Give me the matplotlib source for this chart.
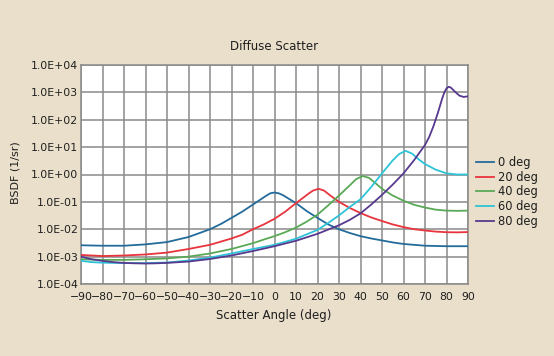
"""
Diffuse scatter BSDF curves for several incidence angles
"""

import matplotlib

matplotlib.use("Agg")
import matplotlib.pyplot as plt
from matplotlib.ticker import FixedLocator, FuncFormatter

# page and line colours
BG_COLOR: str = "#e9dfca"
GRID_COLOR: str = "#8a8a8a"

TITLE: str = "Diffuse Scatter"
X_LABEL: str = "Scatter Angle (deg)"
Y_LABEL: str = "BSDF (1/sr)"

X_TICKS: list[int] = list(range(-90, 91, 10))
Y_TICKS: list[float] = [1e-4, 1e-3, 1e-2, 1e-1, 1e0, 1e1, 1e2, 1e3, 1e4]

SERIES_NAMES: list[str] = ["0 deg", "20 deg", "40 deg", "60 deg", "80 deg"]
SERIES_COLORS: list[str] = ["#236b9b", "#e8343c", "#5aa957", "#2ec3d7", "#57398e"]

# values, one (angle, bsdf) pair per point
ANGLES_0: list[float] = [
    -90, -80, -70, -60, -50, -40, -35, -30, -25, -20, -15, -10, -7, -4, -2, 0,
    2, 4, 7, 10, 15, 20, 25, 30, 35, 40, 45, 50, 55, 60, 70, 80, 90,
]
BSDF_0: list[float] = [
    2.6e-3, 2.5e-3, 2.5e-3, 2.8e-3, 3.4e-3, 5.2e-3, 7.2e-3, 1.0e-2, 1.55e-2,
    2.6e-2, 4.4e-2, 8.0e-2, 1.15e-1, 1.65e-1, 2.05e-1, 2.2e-1, 2.05e-1, 1.75e-1,
    1.25e-1, 9.0e-2, 4.6e-2, 2.6e-2, 1.5e-2, 1.0e-2, 7.3e-3, 5.6e-3, 4.6e-3,
    3.9e-3, 3.3e-3, 2.9e-3, 2.5e-3, 2.4e-3, 2.4e-3,
]

ANGLES_20: list[float] = [
    -90, -80, -70, -60, -50, -40, -30, -20, -15, -10, -5, 0, 5, 10, 13, 16, 18,
    20.5, 23, 26, 30, 35, 40, 45, 50, 55, 60, 65, 70, 75, 80, 85, 90,
]
BSDF_20: list[float] = [
    1.15e-3, 1.05e-3, 1.1e-3, 1.2e-3, 1.4e-3, 1.9e-3, 2.7e-3, 4.6e-3, 6.3e-3,
    1.0e-2, 1.5e-2, 2.4e-2, 4.4e-2, 9.0e-2, 1.35e-1, 2.05e-1, 2.6e-1, 3.0e-1,
    2.6e-1, 1.7e-1, 1.0e-1, 6.0e-2, 3.9e-2, 2.7e-2, 2.0e-2, 1.5e-2, 1.2e-2,
    1.0e-2, 9.0e-3, 8.2e-3, 7.8e-3, 7.7e-3, 7.9e-3,
]

ANGLES_40: list[float] = [
    -90, -80, -70, -60, -50, -40, -30, -20, -10, -5, 0, 5, 10, 15, 20, 25, 30,
    35, 38, 41, 44, 47, 50, 55, 60, 65, 70, 75, 80, 85, 90,
]
BSDF_40: list[float] = [
    8.0e-4, 7.6e-4, 7.6e-4, 8.0e-4, 8.6e-4, 1.0e-3, 1.3e-3, 1.9e-3, 3.1e-3,
    4.2e-3, 5.6e-3, 7.8e-3, 1.15e-2, 1.9e-2, 3.4e-2, 7.5e-2, 1.7e-1, 4.0e-1,
    6.8e-1, 8.8e-1, 7.5e-1, 4.8e-1, 3.0e-1, 1.7e-1, 1.1e-1, 7.8e-2, 6.2e-2,
    5.2e-2, 4.8e-2, 4.7e-2, 4.8e-2,
]

ANGLES_60: list[float] = [
    -90, -85, -80, -70, -60, -50, -40, -30, -20, -10, 0, 10, 20, 25, 30, 35, 40,
    45, 50, 55, 58, 61, 64, 67, 70, 75, 80, 85, 90,
]
BSDF_60: list[float] = [
    7.0e-4, 6.3e-4, 6.0e-4, 5.8e-4, 5.8e-4, 6.1e-4, 7.2e-4, 9.2e-4, 1.3e-3,
    1.9e-3, 2.7e-3, 4.5e-3, 9.5e-3, 1.7e-2, 3.2e-2, 6.5e-2, 1.25e-1, 3.5e-1,
    1.1, 3.3, 5.6, 7.3, 5.8, 3.6, 2.4, 1.5, 1.1, 1.0, 1.0,
]

ANGLES_80: list[float] = [
    -90, -85, -80, -75, -70, -65, -60, -55, -50, -40, -30, -20, -10, 0, 10, 20,
    30, 35, 40, 45, 50, 55, 60, 65, 70, 72, 74, 76, 78, 79, 80, 81, 82, 84, 86,
    88, 90,
]
BSDF_80: list[float] = [
    1.0e-3, 8.0e-4, 7.0e-4, 6.3e-4, 5.9e-4, 5.7e-4, 5.6e-4, 5.7e-4, 5.9e-4,
    6.6e-4, 8.2e-4, 1.1e-3, 1.6e-3, 2.4e-3, 3.8e-3, 6.8e-3, 1.4e-2, 2.2e-2,
    3.8e-2, 8.0e-2, 1.8e-1, 4.3e-1, 1.1, 3.4, 12, 24, 60, 180, 600, 1000, 1400,
    1600, 1500, 1050, 760, 680, 720,
]


def log_label(value: float, _pos: int) -> str:
    """formats a y tick the way the reference does, e.g. 1.0E+04"""
    return f"{value:.1E}"


def plot_scatter() -> None:
    """draws the five bsdf curves and saves them to out.png"""
    fig = plt.figure(figsize=(5.54, 3.56), dpi=100, facecolor=BG_COLOR)
    ax = fig.add_axes((81 / 554, 72 / 356, 387 / 554, 219 / 356))
    ax.set_facecolor("white")

    data = [
        (ANGLES_0, BSDF_0),
        (ANGLES_20, BSDF_20),
        (ANGLES_40, BSDF_40),
        (ANGLES_60, BSDF_60),
        (ANGLES_80, BSDF_80),
    ]
    for (x, y), name, color in zip(data, SERIES_NAMES, SERIES_COLORS):
        ax.plot(x, y, color=color, linewidth=1.3, label=name, zorder=3)

    ax.set_yscale("log")
    ax.set_xlim(-90, 90)
    ax.set_ylim(1e-4, 1e4)
    ax.xaxis.set_major_locator(FixedLocator(X_TICKS))
    ax.yaxis.set_major_locator(FixedLocator(Y_TICKS))
    ax.yaxis.set_minor_locator(FixedLocator([]))
    ax.yaxis.set_major_formatter(FuncFormatter(log_label))
    ax.tick_params(length=0, labelsize=7.8, colors="#1e1e1e", pad=2)
    ax.tick_params(axis="x", pad=6)

    ax.grid(True, color=GRID_COLOR, linewidth=1.1)
    for spine in ax.spines.values():
        spine.set_color(GRID_COLOR)
        spine.set_linewidth(1.1)

    fig.text(274 / 554, 1 - 46 / 356, TITLE, ha="center", va="center",
             fontsize=8.5, color="#1e1e1e")
    fig.text(274 / 554, 1 - 315 / 356, X_LABEL, ha="center", va="center",
             fontsize=8.5, color="#1e1e1e")
    fig.text(16 / 554, 1 - 173 / 356, Y_LABEL, ha="center", va="center",
             rotation=90, fontsize=8, color="#1e1e1e")

    fig.legend(
        loc="center left",
        bbox_to_anchor=(476 / 554, 1 - 192 / 356),
        frameon=False,
        fontsize=8.3,
        handlelength=1.6,
        handletextpad=0.3,
        labelspacing=0.15,
        borderpad=0,
        borderaxespad=0,
        labelcolor="#1e1e1e",
    )

    fig.savefig("out.png", dpi=100, facecolor=BG_COLOR)


if __name__ == "__main__":
    plot_scatter()
